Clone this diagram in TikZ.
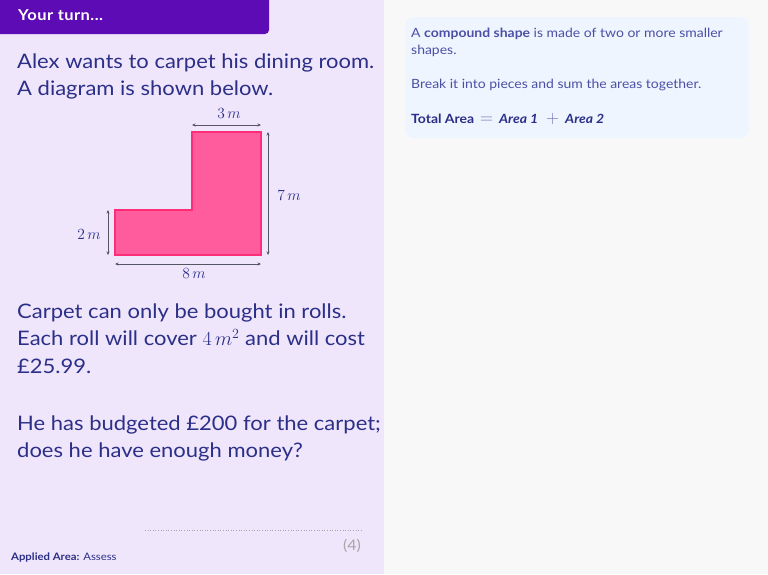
\documentclass[tikz,border=0pt]{standalone}
\usepackage{fix-cm}
\usepackage{fontspec}
\setmainfont[FakeStretch=1.1]{Lato}
\usepackage{amsmath}
\usetikzlibrary{arrows.meta,positioning}

\definecolor{panelbg}{RGB}{240,230,252}
\definecolor{pagebg}{RGB}{248,248,248}
\definecolor{headpurple}{RGB}{92,11,181}
\definecolor{hintbg}{RGB}{238,245,254}
\definecolor{navy}{RGB}{43,47,135}
\definecolor{hintnavy}{RGB}{75,80,166}
\definecolor{carpetfill}{RGB}{255,92,158}
\definecolor{carpetline}{RGB}{255,45,120}
\definecolor{dimgray}{RGB}{85,85,100}

\begin{document}
\begin{tikzpicture}[
    x=1pt, y=-1pt,
    bodytext/.style={anchor=base west, inner sep=0pt, align=left, text=navy, font=\fontsize{20}{27.5}\selectfont},
    hinttext/.style={anchor=base west, inner sep=0pt, align=left, text=hintnavy, font=\fontsize{12.7}{17.5}\selectfont},
    dimlabel/.style={inner sep=0pt, text=navy, font=\fontsize{15.5}{15.5}\selectfont},
    dimline/.style={{Stealth[length=3.5pt,width=3pt]}-{Stealth[length=3.5pt,width=3pt]}, dimgray, line width=0.8pt},
    carpet/.style={fill=carpetfill, draw=carpetline, line width=1.5pt}
]
\useasboundingbox (0,0) rectangle (768,574);

% Backgrounds
\fill[pagebg] (0,0) rectangle (768,574);
\fill[panelbg] (0,0) rectangle (384,574);
\fill[headpurple] (0,0) -- (269,0) -- (269,30) arc[start angle=0, end angle=90, radius=4] -- (0,34) -- cycle;
\fill[hintbg, rounded corners=9pt] (405,17) rectangle (749,138);

% Header and question (base = last line)
\node[anchor=base west, inner sep=0pt, text=white, font=\fontsize{15}{15}\selectfont\bfseries\addfontfeature{LetterSpace=3}] (turn) at (18,20) {Your turn...};
\node[bodytext] (intro) at (17,95.5) {Alex wants to carpet his dining room.\\A diagram is shown below.};

% Compound shape
\coordinate (tl) at (192,132);
\coordinate (tr) at (261,132);
\coordinate (br) at (261,255);
\coordinate (bl) at (115,255);
\coordinate (sl) at (115,210);
\coordinate (sc) at (192,210);
\filldraw[carpet] (tl) -- (tr) -- (br) -- (bl) -- (sl) -- (sc) -- cycle;

% Dimensions
\coordinate (topa) at (192,125);
\coordinate (topb) at (261,125);
\coordinate (rgta) at (268,132);
\coordinate (rgtb) at (268,255);
\coordinate (lfta) at (108,210);
\coordinate (lftb) at (108,255);
\coordinate (bota) at (115,264);
\coordinate (botb) at (261,264);
\draw[dimline] (topa) -- (topb);
\draw[dimline] (rgta) -- (rgtb);
\draw[dimline] (lfta) -- (lftb);
\draw[dimline] (bota) -- (botb);
\node[dimlabel, anchor=base] (lthree) at (229,118) {$3\,m$};
\node[dimlabel, anchor=base] (lseven) at (289,200) {$7\,m$};
\node[dimlabel, anchor=base] (ltwo) at (89,239) {$2\,m$};
\node[dimlabel, anchor=base] (leight) at (194,278) {$8\,m$};

% Carpet details
\node[bodytext] (rolls) at (17,373) {Carpet can only be bought in rolls.\\Each roll will cover $4\,m^2$ and will cost\\£25.99.};
\node[bodytext] (budget) at (17,457.5) {He has budgeted £200 for the carpet;\\does he have enough money?};

% Answer line and marks
\coordinate (ansa) at (145,530);
\coordinate (ansb) at (361,530);
\draw[gray!70, dotted, line width=0.6pt] (ansa) -- (ansb);
\node[anchor=base east, inner sep=0pt, text=gray!70, font=\fontsize{14.5}{14.5}\selectfont] (marks) at (361,550) {(4)};
\node[anchor=base west, inner sep=0pt, text=navy, font=\fontsize{10.3}{10.3}\selectfont] (area) at (11,560) {\textbf{Applied Area:} Assess};

% Hint box
\node[hinttext] (hint) at (411,54.5) {A \textbf{compound shape} is made of two or more smaller\\shapes.};
\node[hinttext] (breakit) at (411,88) {Break it into pieces and sum the areas together.};
\node[hinttext, text=navy] (total) at (411,123) {\textbf{Total Area}\hspace{6pt}{\color{hintnavy!80}\fontsize{18}{18}\selectfont$=$}\hspace{6pt}\textbf{\textit{Area 1}}\hspace{8pt}{\color{hintnavy!80}\fontsize{18}{18}\selectfont$+$}\hspace{6pt}\textbf{\textit{Area 2}}};
\end{tikzpicture}
\end{document}
